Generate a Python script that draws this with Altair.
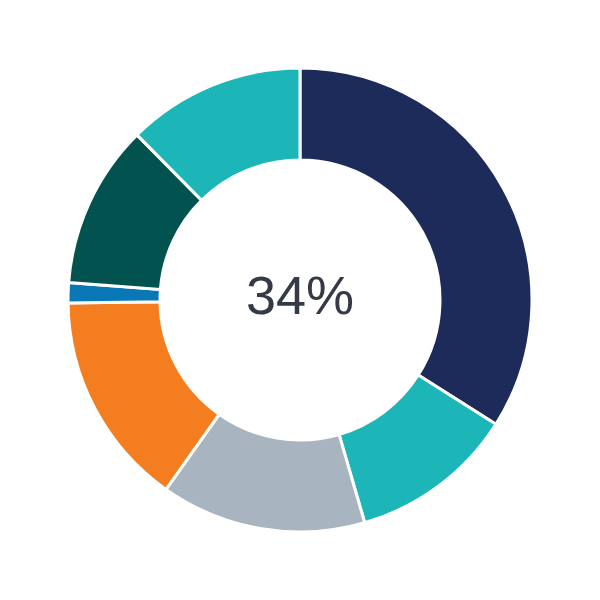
import altair as alt
import pandas as pd

categories = ["A", "B", "C", "D", "E", "F", "G"]
values = [34.0, 11.5, 14.3, 15.0, 1.4, 11.4, 12.4]
colors = ["#1c2b5a", "#1cb5b8", "#a9b4c1", "#f47d20", "#0a78b6", "#02534f", "#1cb5b8"]
center_label = ["34%"]

df = pd.DataFrame({"cat": categories, "value": values, "order": list(range(len(categories)))})

arcs = alt.Chart(df).mark_arc(outerRadius=232, innerRadius=140, stroke="white", strokeWidth=3).encode(
    theta=alt.Theta("value:Q", stack=True),
    order=alt.Order("order:Q"),
    color=alt.Color("cat:N", scale=alt.Scale(domain=categories, range=colors), legend=None),
)

text = alt.Chart(pd.DataFrame({"t": center_label})).mark_text(
    font="Liberation Sans", fontSize=54, color="#343a46", baseline="middle", align="center"
).encode(text="t:N", x=alt.value(292), y=alt.value(290))

chart = (arcs + text).properties(width=584, height=584, padding=0, autosize="none").configure_view(stroke=None)
chart.save("out.html", embed_options={"renderer": "svg", "actions": False})
